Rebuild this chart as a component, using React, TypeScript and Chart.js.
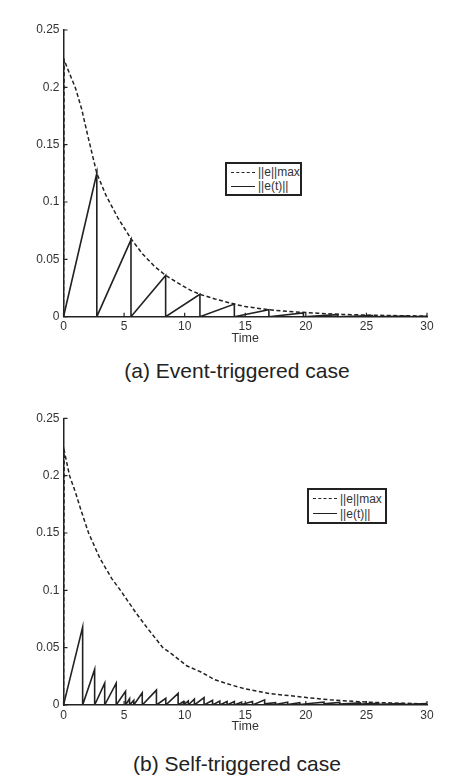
import { useEffect, useRef } from "react"
import { Chart, registerables, type Plugin } from "chart.js"

Chart.register(...registerables)

// (a) event-triggered case
const eventMaxT = [0, 0.05, 0.5, 1, 1.5, 2, 2.75, 3.5, 4.5, 5.57, 6.5, 7.5, 8.43, 9.5, 10.5, 11.26, 12.5, 14.1, 15, 17, 19, 21, 23, 25, 27, 30]
const eventMaxV = [0, 0.224, 0.212, 0.199, 0.181, 0.158, 0.125, 0.106, 0.086, 0.068, 0.055, 0.044, 0.036, 0.029, 0.023, 0.0195, 0.0155, 0.011, 0.0088, 0.006, 0.0042, 0.003, 0.002, 0.0014, 0.001, 0.0006]
const eventErrT = [0, 2.75, 2.75, 5.57, 5.57, 8.43, 8.43, 11.26, 11.26, 14.1, 14.1, 16.95, 16.95, 19.8, 19.8, 22.65, 22.65, 25.5, 25.5, 28.35, 28.35, 30]
const eventErrV = [0, 0.125, 0, 0.067, 0, 0.036, 0, 0.0195, 0, 0.011, 0, 0.006, 0, 0.0033, 0, 0.0018, 0, 0.001, 0, 0.0005, 0, 0.0003]

// (b) self-triggered case
const selfMaxT = [0, 0.05, 0.5, 1, 1.5, 2.07, 3, 4, 4.7, 6, 7, 8.2, 9, 10.2, 11.3, 12.5, 14, 15, 17, 19.9, 22, 25, 27, 30]
const selfMaxV = [0, 0.222, 0.2, 0.185, 0.168, 0.15, 0.128, 0.11, 0.1, 0.08, 0.066, 0.05, 0.044, 0.034, 0.029, 0.022, 0.017, 0.014, 0.01, 0.0067, 0.0045, 0.0025, 0.0018, 0.001]
const selfErrT = [0, 1.58, 1.58, 2.57, 2.57, 3.4, 3.4, 4.35, 4.35, 5.12, 5.12, 5.45, 5.45, 5.8, 5.8, 6.5, 6.5, 7.67, 7.67, 8.44, 8.44, 9.46, 9.46, 9.9, 9.9, 10.3, 10.3, 10.8, 10.8, 11.6, 11.6, 12.3, 12.3, 12.9, 12.9, 13.5, 13.5, 14.1, 14.1, 14.7, 14.7, 15.6, 15.6, 16.6, 16.6, 17.5, 17.5, 18.5, 18.5, 19.5, 19.5, 20.5, 21.5, 21.5, 22.8, 22.8, 24.5, 24.5, 26, 26, 28, 28, 30]
const selfErrV = [0, 0.068, 0, 0.031, 0, 0.019, 0, 0.019, 0, 0.012, 0, 0.0055, 0, 0.004, 0, 0.0107, 0, 0.013, 0, 0.0058, 0, 0.0102, 0, 0.003, 0, 0.0035, 0, 0.0052, 0, 0.0064, 0, 0.004, 0, 0.0035, 0, 0.003, 0, 0.003, 0, 0.0025, 0.0005, 0.003, 0, 0.0045, 0.001, 0.002, 0.0005, 0.0025, 0.0005, 0.002, 0.0005, 0.0015, 0.0025, 0.001, 0.0022, 0.0008, 0.0018, 0.0008, 0.0015, 0.0006, 0.0012, 0.0005, 0.0012]

const legendLabels = ["||e||max", "||e(t)||"]
const xTicks = [0, 5, 10, 15, 20, 25, 30]
const yTicks = [0, 0.05, 0.1, 0.15, 0.2, 0.25]

const FONT = "'Liberation Sans', Arial, Helvetica, sans-serif"
const INK = "#222"

// draws short tick marks pointing into the plot, matlab style
const innerTicks: Plugin = {
  id: "innerTicks",
  afterDraw(chart) {
    const { ctx, chartArea } = chart
    const xs = chart.scales.x
    const ys = chart.scales.y
    ctx.save()
    ctx.strokeStyle = INK
    ctx.lineWidth = 1.2
    ctx.beginPath()
    xTicks.forEach((v) => {
      const px = xs.getPixelForValue(v)
      ctx.moveTo(px, chartArea.bottom)
      ctx.lineTo(px, chartArea.bottom - 4)
    })
    yTicks.forEach((v) => {
      const py = ys.getPixelForValue(v)
      ctx.moveTo(chartArea.left, py)
      ctx.lineTo(chartArea.left + 4, py)
    })
    ctx.stroke()
    ctx.restore()
  },
}

interface PanelProps {
  top: number
  maxT: number[]
  maxV: number[]
  errT: number[]
  errV: number[]
  padTop: number
  axisH: number
  legend: { left: number; top: number; width: number; rowH: number }
  caption: string
  captionTop: number
}

function Panel({ top, maxT, maxV, errT, errV, padTop, axisH, legend, caption, captionTop }: PanelProps) {
  const canvasRef = useRef<HTMLCanvasElement>(null)

  useEffect(() => {
    if (!canvasRef.current) return
    const tickFont = { family: FONT, size: 12 }

    const chart = new Chart(canvasRef.current, {
      type: "line",
      data: {
        datasets: [
          {
            label: legendLabels[0],
            data: maxT.map((t, i) => ({ x: t, y: maxV[i] })),
            borderColor: INK,
            borderWidth: 1.5,
            borderDash: [4, 2.5],
            pointRadius: 0,
            tension: 0,
          },
          {
            label: legendLabels[1],
            data: errT.map((t, i) => ({ x: t, y: errV[i] })),
            borderColor: INK,
            borderWidth: 1.6,
            pointRadius: 0,
            tension: 0,
          },
        ],
      },
      options: {
        animation: false,
        responsive: true,
        maintainAspectRatio: false,
        layout: { padding: { top: padTop, right: 47, left: 0, bottom: 0 } },
        plugins: { legend: { display: false }, tooltip: { enabled: false } },
        scales: {
          x: {
            type: "linear",
            min: 0,
            max: 30,
            grid: { display: false, drawTicks: false },
            border: { display: true, color: INK, width: 1.5 },
            afterFit: (s) => {
              s.height = axisH
            },
            afterBuildTicks: (s) => {
              s.ticks = xTicks.map((v) => ({ value: v }))
            },
            ticks: { color: "#333", font: tickFont, padding: 3, maxRotation: 0 },
            title: { display: true, text: "Time", color: "#333", font: { family: FONT, size: 12.5 }, padding: { top: 0, bottom: 4 } },
          },
          y: {
            type: "linear",
            min: 0,
            max: 0.25,
            grid: { display: false, drawTicks: false },
            border: { display: true, color: INK, width: 1.5 },
            afterFit: (s) => {
              s.width = 63.5
            },
            afterBuildTicks: (s) => {
              s.ticks = yTicks.map((v) => ({ value: v }))
            },
            ticks: {
              color: "#333",
              font: tickFont,
              padding: 4,
              callback: (v) => String(+Number(v).toFixed(2)),
            },
          },
        },
      },
      plugins: [innerTicks],
    })

    return () => chart.destroy()
  }, [maxT, maxV, errT, errV, padTop, axisH])

  const row = (dashed: boolean, text: string) => (
    <div style={{ display: "flex", alignItems: "center", height: legend.rowH }}>
      <span
        style={{
          display: "inline-block",
          width: 24,
          marginLeft: 4,
          marginRight: 3,
          borderTop: `1.5px ${dashed ? "dashed" : "solid"} ${INK}`,
        }}
      />
      <span>{text}</span>
    </div>
  )

  return (
    <>
      <div style={{ position: "absolute", left: 0, top, width: 474, height: 340 }}>
        <canvas ref={canvasRef} />
      </div>
      <div
        style={{
          position: "absolute",
          left: legend.left,
          top: legend.top,
          width: legend.width,
          border: `2px solid ${INK}`,
          background: "#fff",
          fontFamily: FONT,
          fontSize: 12,
          color: "#333",
          padding: "1px 0",
          boxSizing: "border-box",
          lineHeight: 1,
        }}
      >
        {row(true, legendLabels[0])}
        {row(false, legendLabels[1])}
      </div>
      <div
        style={{
          position: "absolute",
          left: 0,
          top: captionTop,
          width: 474,
          textAlign: "center",
          fontFamily: FONT,
          fontSize: 21,
          color: INK,
        }}
      >
        {caption}
      </div>
    </>
  )
}

export default function App() {
  return (
    <div style={{ position: "absolute", left: 0, top: 0, width: 474, height: 779, background: "#fff" }}>
      <Panel
        top={10}
        maxT={eventMaxT}
        maxV={eventMaxV}
        errT={eventErrT}
        errV={eventErrV}
        padTop={20}
        axisH={33.3}
        legend={{ left: 225, top: 162, width: 77, rowH: 14 }}
        caption="(a) Event-triggered case"
        captionTop={359}
      />
      <Panel
        top={398}
        maxT={selfMaxT}
        maxV={selfMaxV}
        errT={selfErrT}
        errV={selfErrV}
        padTop={20.3}
        axisH={33}
        legend={{ left: 307, top: 488, width: 80, rowH: 15 }}
        caption="(b) Self-triggered case"
        captionTop={752}
      />
    </div>
  )
}
